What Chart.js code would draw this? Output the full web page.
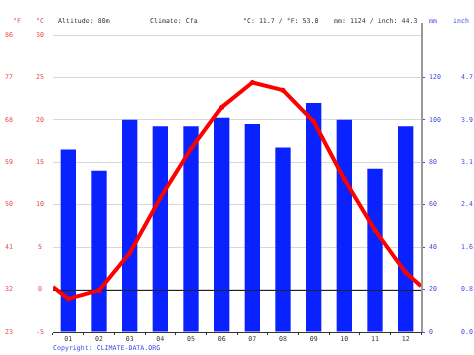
<!DOCTYPE html>
<html><head><meta charset="utf-8">
<script src="https://cdn.jsdelivr.net/npm/chart.js@4/dist/chart.umd.min.js"></script>
<style>html,body{margin:0;padding:0;background:#fff}canvas{display:block}</style>
</head><body>
<canvas id="c" width="474" height="355"></canvas>
<script>
const months = ['01','02','03','04','05','06','07','08','09','10','11','12'];
const tempC = [-1.1, -0.1, 4.3, 10.8, 16.6, 21.5, 24.4, 23.5, 19.8, 13.0, 7.0, 2.0];
const tempEdgeStart = 0.3;
const tempEdgeEnd = 0.4;
const precipMM = [86, 76, 100, 97, 97, 101, 98, 87, 108, 100, 77, 97];
const tickC = [-5, 0, 5, 10, 15, 20, 25, 30];
const tickF = [23, 32, 41, 50, 59, 68, 77, 86];
const tickMM = [0, 20, 40, 60, 80, 100, 120];
const tickInch = ['0.0', '0.8', '1.6', '2.4', '3.1', '3.9', '4.7'];
const headerTexts = ['Altitude: 80m', 'Climate: Cfa', '°C: 11.7 / °F: 53.0', 'mm: 1124 / inch: 44.3'];
const copyright = 'Copyright: CLIMATE-DATA.ORG';

const FONT = 'DejaVu Sans Mono';
const FS = 6.6;
const RED = '#e8474d';
const BLUE = '#3b4ae6';

const linePts = [{x: 0, y: tempEdgeStart}]
  .concat(tempC.map((t, i) => ({x: i + 0.5, y: t})))
  .concat([{x: 12, y: tempEdgeEnd}]);

const deco = {
  id: 'deco',
  afterDatasetDraw(chart, args) {
    if (args.index !== 0) return;
    const ctx = chart.ctx, a = chart.chartArea, yT = chart.scales.yT;
    const y0 = Math.round(yT.getPixelForValue(0)) + 0.5;
    ctx.save();
    ctx.strokeStyle = '#222'; ctx.lineWidth = 1;
    ctx.beginPath(); ctx.moveTo(a.left, y0); ctx.lineTo(a.right, y0); ctx.stroke();
    ctx.restore();
  },
  afterDraw(chart) {
    const ctx = chart.ctx, a = chart.chartArea;
    ctx.save();
    ctx.strokeStyle = '#999'; ctx.lineWidth = 2;
    ctx.beginPath(); ctx.moveTo(a.right + 1, 23); ctx.lineTo(a.right + 1, a.bottom); ctx.stroke();
    ctx.font = FS + 'px "' + FONT + '"';
    ctx.textBaseline = 'middle';
    ctx.textAlign = 'center';
    ctx.fillStyle = RED;
    ctx.fillText('°F', 17, 21);
    ctx.fillText('°C', 40, 21);
    ctx.fillStyle = BLUE;
    ctx.textAlign = 'left';
    ctx.fillText('mm', 429, 21);
    ctx.fillText('inch', 453, 21);
    ctx.fillStyle = '#333';
    const xs = [58, 150, 243, 334];
    headerTexts.forEach((t, i) => ctx.fillText(t, xs[i], 21));
    ctx.fillStyle = BLUE;
    ctx.fillText(copyright, 53, 348);
    ctx.restore();
  }
};

const tickFont = {family: FONT, size: FS};

new Chart(document.getElementById('c'), {
  type: 'bar',
  data: {
    labels: months,
    datasets: [
      {type: 'bar', data: precipMM, xAxisID: 'x', yAxisID: 'yP', backgroundColor: '#0a22ff',
       barPercentage: 0.5, categoryPercentage: 1, grouped: false, order: 1},
      {type: 'line', data: linePts, xAxisID: 'xL', yAxisID: 'yT', borderColor: '#ff0000',
       borderWidth: 4, tension: 0, order: 0,
       pointRadius: ctx => (ctx.dataIndex === 0 || ctx.dataIndex === linePts.length - 1) ? 0 : 2.5,
       pointBackgroundColor: '#ff0000', pointBorderWidth: 0, borderJoinStyle: 'round'}
    ]
  },
  options: {
    responsive: false, animation: false, devicePixelRatio: 1,
    layout: {padding: {top: 35, bottom: 11, left: 0, right: 0}},
    plugins: {legend: {display: false}, tooltip: {enabled: false}},
    scales: {
      x: {type: 'category', position: 'bottom', offset: true,
          grid: {drawOnChartArea: false, drawTicks: true, tickLength: 3, offset: true, color: '#333'},
          border: {display: true, color: '#333', width: 1},
          ticks: {padding: 0, font: tickFont, color: '#333', maxRotation: 0, autoSkip: false},
          afterFit: s => { s.height = 12; }},
      xL: {type: 'linear', min: 0, max: 12, display: false, offset: false},
      yF: {type: 'linear', position: 'left', weight: 10, min: 23, max: 86,
           afterBuildTicks: s => { s.ticks = tickF.map(v => ({value: v})); },
           grid: {display: false}, border: {display: false},
           ticks: {font: tickFont, color: RED, crossAlign: 'center', padding: 13},
           afterFit: s => { s.width = 34; }},
      yT: {type: 'linear', position: 'left', weight: 0, min: -5, max: 30,
           afterBuildTicks: s => { s.ticks = tickC.map(v => ({value: v})); },
           grid: {drawTicks: false, color: c => (c.tick && c.tick.value === -5) ? 'rgba(0,0,0,0)' : '#d9d9d9', lineWidth: 1},
           border: {display: false},
           ticks: {font: tickFont, color: RED, crossAlign: 'center', padding: 9},
           afterFit: s => { s.width = 19; }},
      yP: {type: 'linear', position: 'right', weight: 0, min: 0, max: 140,
           afterBuildTicks: s => { s.ticks = tickMM.map(v => ({value: v})); },
           grid: {drawOnChartArea: false, drawTicks: true, tickLength: 4, color: BLUE},
           border: {display: false},
           ticks: {font: tickFont, color: BLUE, padding: 4},
           afterFit: s => { s.width = 32; }},
      yI: {type: 'linear', position: 'right', weight: 10, min: 0, max: 140,
           afterBuildTicks: s => { s.ticks = tickMM.map(v => ({value: v})); },
           grid: {display: false}, border: {display: false},
           ticks: {font: tickFont, color: BLUE, padding: 0, callback: (v, i) => tickInch[i]},
           afterFit: s => { s.width = 21; }}
    }
  },
  plugins: [deco]
});
</script>
</body></html>
